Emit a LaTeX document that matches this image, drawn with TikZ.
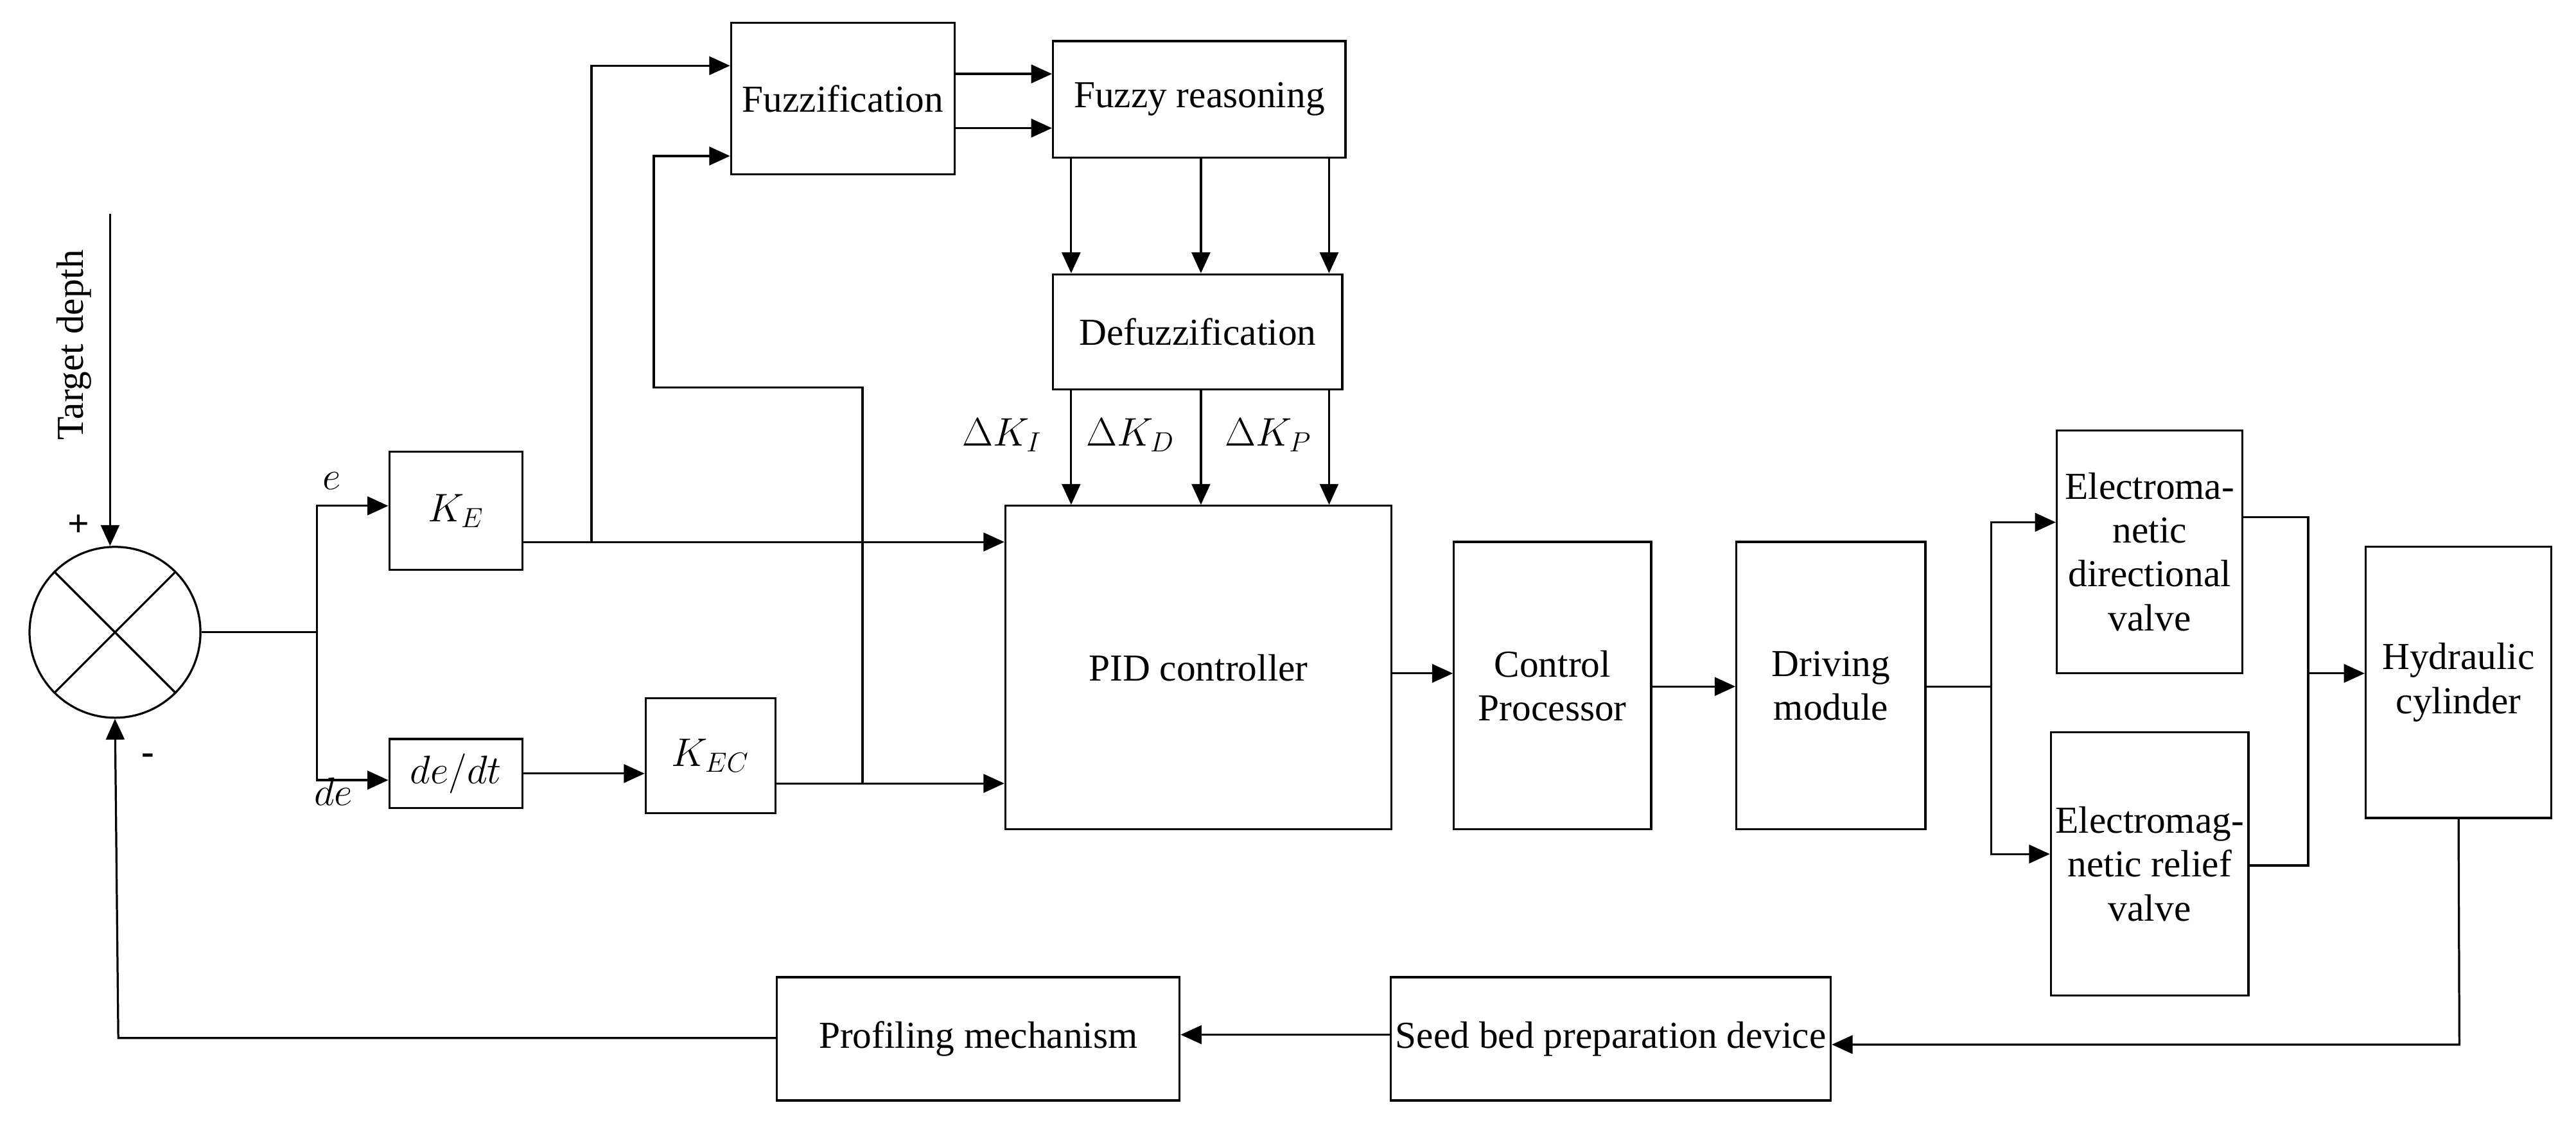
\documentclass[tikz,border=0pt]{standalone}
\usepackage{fontspec}
\setmainfont{Liberation Serif}
\usetikzlibrary{arrows.meta}
\tikzset{
  box/.style={draw,inner sep=2pt,align=center},
  arr/.style={-{Triangle[length=9pt,width=8pt]}}
}
\begin{document}
\begin{tikzpicture}[x=0.025cm,y=-0.025cm,line width=0.9pt,
  font=\fontsize{16.5}{19}\selectfont]
\useasboundingbox (0,0) rectangle (1568,688);
% summing junction
\node[draw,circle,minimum size=2.6cm,inner sep=0] (sum) at (70,385) {};
\draw (sum.north west) -- (sum.south east) (sum.north east) -- (sum.south west);
\coordinate (tgt) at (67,130);
\draw[arr] (tgt) -- (tgt|-sum.north);
\node[rotate=90] (tlab) at (45,210) {Target depth};
\node (plus) at (48,320) {\textbf{+}};
\node (minus) at (90,462) {\textbf{-}};
% blocks
\node[box,minimum width=2.025cm,minimum height=1.8cm] (KE) at (277.5,311) {$K_E$};
\node[box,minimum width=2.025cm,minimum height=1.05cm] (ddt) at (277.5,471) {$de/dt$};
\node[box,minimum width=1.975cm,minimum height=1.75cm] (KEC) at (432.5,460) {$K_{EC}$};
\node[box,minimum width=3.4cm,minimum height=2.3cm] (fz) at (513,60) {Fuzzification};
\node[box,minimum width=4.45cm,minimum height=1.775cm] (fr) at (730,60.5) {Fuzzy reasoning};
\node[box,minimum width=4.4cm,minimum height=1.75cm] (df) at (729,202) {Defuzzification};
\node[box,minimum width=5.875cm,minimum height=4.925cm] (pid) at (729.5,406.5) {PID controller};
\node[box,minimum width=3cm,minimum height=4.375cm] (cp) at (945,417.5) {Control\\Processor};
\node[box,minimum width=2.875cm,minimum height=4.375cm] (dm) at (1114.5,417.5) {Driving\\module};
\node[box,minimum width=2.825cm,minimum height=3.7cm] (v1) at (1308.5,336) {Electroma-\\netic\\directional\\valve};
\node[box,minimum width=2.825cm,minimum height=4cm] (v2) at (1308.5,526) {Electromag-\\netic relief\\valve};
\node[box,minimum width=2.825cm,minimum height=4.125cm] (hc) at (1496.5,415.5) {Hydraulic\\cylinder};
\node[box,minimum width=6.625cm,minimum height=1.875cm] (sb) at (980.5,632.5) {Seed bed preparation device};
\node[box,minimum width=6.125cm,minimum height=1.875cm] (pm) at (595.5,632.5) {Profiling mechanism};
% error branch
\coordinate (br) at (193,385);
\draw (sum.east) -- (br);
\draw[arr] (br) -- (193,308) -- (KE.west|-0,308);
\draw[arr] (br) -- (193,475) -- (ddt.west|-0,475);
\node (e) at (202,293) {$e$};
\node (de) at (203,482) {$de$};
% KE path
\coordinate (j1) at (360,330);
\draw[arr] (KE.east|-j1) -- (pid.west|-j1);
\draw[arr] (j1) -- (360,40) -- (fz.west|-0,40);
% de path
\draw[arr] (ddt.east) -- (KEC.west|-ddt.east);
\coordinate (j2) at (525,477);
\draw[arr] (KEC.east|-j2) -- (pid.west|-j2);
\draw[arr] (j2) -- (525,236) -- (398,236) -- (398,95) -- (fz.west|-0,95);
% fuzzy chain
\draw[arr] (fz.east|-0,45) -- (fr.west|-0,45);
\draw[arr] (fz.east|-0,78) -- (fr.west|-0,78);
\foreach \x in {652,731,809}{
  \draw[arr] (fr.south-|\x,0) -- (df.north-|\x,0);
  \draw[arr] (df.south-|\x,0) -- (pid.north-|\x,0);
}
\node (dki) at (610,265) {$\Delta K_I$};
\node (dkd) at (688,265) {$\Delta K_D$};
\node (dkp) at (772,265) {$\Delta K_P$};
% forward path
\draw[arr] (pid.east|-0,410) -- (cp.west|-0,410);
\draw[arr] (cp.east|-0,418) -- (dm.west|-0,418);
\draw (dm.east|-0,418) -- (1212,418);
\draw[arr] (1212,418) -- (1212,318) -- (v1.west|-0,318);
\draw[arr] (1212,418) -- (1212,520) -- (v2.west|-0,520);
\draw (v1.east|-0,315) -- (1405,315) -- (1405,527) -- (v2.east|-0,527);
\draw[arr] (1405,410) -- (hc.west|-0,410);
% feedback
\draw[arr] (hc.south) -- (1497,636) -- (sb.east|-0,636);
\draw[arr] (sb.west|-0,630) -- (pm.east|-0,630);
\draw[arr] (pm.west|-0,632) -- (72,632) -- (sum.south);
\end{tikzpicture}
\end{document}
